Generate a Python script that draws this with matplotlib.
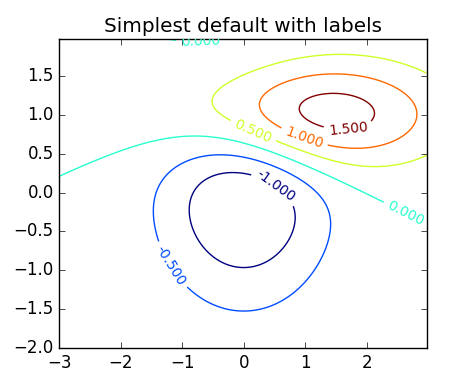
import numpy as np
import matplotlib
matplotlib.use("Agg")
import matplotlib.pyplot as plt

# grid extent and step
x_range = [-3.0, 3.0]
y_range = [-2.0, 2.0]
step = 0.025

# two gaussian bumps: [sigma_x, sigma_y, mu_x, mu_y]
bump_neg = [1.0, 1.0, 0.0, 0.0]
bump_pos = [1.5, 0.5, 1.0, 1.0]
scale = 10.0

levels = [-1.0, -0.5, 0.0, 0.5, 1.0, 1.5]
title = 'Simplest default with labels'

# where the inline labels sit
label_spots = [(-0.70, 1.93), (0.16, 0.80), (0.98, 0.70), (1.70, 0.81),
               (0.52, 0.08), (-1.19, -0.94), (2.64, -0.26)]


def gauss(X, Y, sx, sy, mx, my):
    return np.exp(-((X - mx) ** 2 / sx ** 2 + (Y - my) ** 2 / sy ** 2) / 2) / (2 * np.pi * sx * sy)


x = np.arange(x_range[0], x_range[1], step)
y = np.arange(y_range[0], y_range[1], step)
X, Y = np.meshgrid(x, y)
Z = scale * (gauss(X, Y, *bump_pos) - gauss(X, Y, *bump_neg))

plt.style.use('classic')
fig = plt.figure(figsize=(4.74, 3.87), dpi=100)
ax = fig.add_subplot(111)
CS = ax.contour(X, Y, Z, levels=levels, cmap='jet')
ax.clabel(CS, inline=1, fontsize=10, fmt='%1.3f', manual=label_spots)
ax.set_title(title)
fig.savefig('out.png', dpi=100)
